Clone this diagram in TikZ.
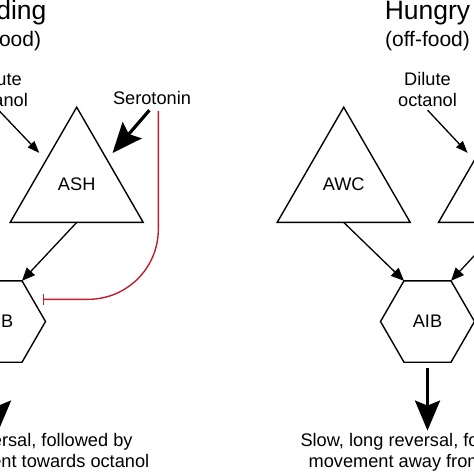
\documentclass[tikz,border=0pt]{standalone}
\usepackage{fontspec}
\setmainfont{Liberation Sans}
\usetikzlibrary{arrows.meta, shapes.geometric}
\definecolor{serored}{RGB}{190,30,45}

\begin{document}
\begin{tikzpicture}[x=1pt, y=-1pt,
  txt/.style={font=\fontsize{18.2}{21}\selectfont, align=center, inner sep=0pt, outer sep=3pt},
  cell/.style={draw, line width=1.4pt, regular polygon, inner sep=0pt, outer sep=0pt,
    font=\fontsize{18.2}{21}\selectfont},
  neuron/.style={cell, regular polygon sides=3, minimum size=153.6pt},
  inter/.style={cell, regular polygon sides=6, minimum size=94pt},
  odour/.style={-{Triangle[length=12pt, width=9pt]}, line width=1.3pt, shorten >=10pt},
  synapse/.style={-{Triangle[length=13pt, width=11pt]}, line width=1.3pt},
  strong/.style={-{Stealth[length=30pt, width=25pt, inset=5pt]}, line width=3.2pt},
  inhib/.style={-{Bar[width=11pt]}, line width=1.4pt, draw=serored, rounded corners=70pt}]

\useasboundingbox (0,0) rectangle (474,474);
\clip (0,0) rectangle (474,474);

% Both columns: title, odour, AIB and the behaviour
\foreach \cx/\side/\tit/\sub/\beh in {
  -1.5/L/Feeding/(on-food)/{Quick, short reversal, followed by\\continued movement towards octanol},
  427.5/R/Hungry/(off-food)/{Slow, long reversal, followed by\\movement away from octanol}} {
  \node (tit\side) [font=\fontsize{26.5}{30}\selectfont, anchor=base] at (\cx, 19.3) {\tit};
  \node (sub\side) [font=\fontsize{21}{24}\selectfont, anchor=base] at (\cx, 46.5) {\sub};
  \node (dil\side) [txt, anchor=north] at (\cx, 69.7) {Dilute\\octanol};
  \node (aib\side) [inter] at (\cx, 321.5) {AIB};
  \node (beh\side) [txt, anchor=north] at (\cx, 430.6) {\beh};
  \draw [strong, shorten <=6pt] (aib\side.south) -- (beh\side.north);
}

% Sensory neurons
\node (ashL) [neuron] at (76.7, 184) {ASH};
\node (awcR) [neuron] at (343.7, 184) {AWC};
\node (ashR) [neuron] at (505, 184) {ASH};
\node (sero) [txt, anchor=base] at (152, 104) {Serotonin};

% Odour and serotonin inputs
\draw [odour] (dilL.south) -- (ashL.142);
\draw [odour] (dilR.south) -- (ashR.142);
\draw [strong, shorten <=4pt, shorten >=8.6pt] (sero.south) -- (ashL.39);
\draw [inhib, shorten >=10pt] ([xshift=6.3pt, yshift=-4pt]sero.south) |- (aibL.33);

% Synapses onto AIB
\draw [synapse] (ashL.south) -- (aibL.60);
\draw [synapse] (awcR.south) -- (aibR.120);
\draw [synapse] (ashR.south) -- (aibR.60);

\end{tikzpicture}
\end{document}
